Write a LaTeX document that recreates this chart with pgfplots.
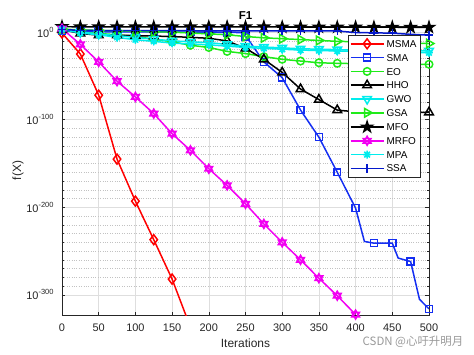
\documentclass[border=0pt]{standalone}
\usepackage{fontspec}
\setmainfont{Liberation Sans}
\newfontfamily\cjk{Noto Sans CJK SC}
\usepackage{pgfplots}
\usepackage{pgfplotstable}
\pgfplotsset{compat=1.18}

\definecolor{cMSMA}{rgb}{1,0,0}
\definecolor{cSMA}{rgb}{0.08,0.18,0.95}
\definecolor{cEO}{rgb}{0.12,0.92,0.1}
\definecolor{cGWO}{rgb}{0,0.93,0.93}
\definecolor{cMRFO}{rgb}{0.95,0,0.95}
\definecolor{cSSA}{rgb}{0.02,0.1,0.8}
\definecolor{axc}{rgb}{0.15,0.15,0.15}

\pgfdeclareplotmark{pentagram}{%
  \pgfpathmoveto{\pgfpointpolar{90}{\pgfplotmarksize}}%
  \pgfpathlineto{\pgfpointpolar{126}{0.382*\pgfplotmarksize}}%
  \pgfpathlineto{\pgfpointpolar{162}{\pgfplotmarksize}}%
  \pgfpathlineto{\pgfpointpolar{198}{0.382*\pgfplotmarksize}}%
  \pgfpathlineto{\pgfpointpolar{234}{\pgfplotmarksize}}%
  \pgfpathlineto{\pgfpointpolar{270}{0.382*\pgfplotmarksize}}%
  \pgfpathlineto{\pgfpointpolar{306}{\pgfplotmarksize}}%
  \pgfpathlineto{\pgfpointpolar{342}{0.382*\pgfplotmarksize}}%
  \pgfpathlineto{\pgfpointpolar{18}{\pgfplotmarksize}}%
  \pgfpathlineto{\pgfpointpolar{54}{0.382*\pgfplotmarksize}}%
  \pgfpathclose\pgfusepathqfillstroke}
\pgfdeclareplotmark{hexagram}{%
  \pgfpathmoveto{\pgfpointpolar{90}{\pgfplotmarksize}}%
  \pgfpathlineto{\pgfpointpolar{210}{\pgfplotmarksize}}%
  \pgfpathlineto{\pgfpointpolar{330}{\pgfplotmarksize}}%
  \pgfpathclose
  \pgfpathmoveto{\pgfpointpolar{270}{\pgfplotmarksize}}%
  \pgfpathlineto{\pgfpointpolar{30}{\pgfplotmarksize}}%
  \pgfpathlineto{\pgfpointpolar{150}{\pgfplotmarksize}}%
  \pgfpathclose\pgfusepathqstroke}
\pgfdeclareplotmark{mstar}{%
  \pgfpathmoveto{\pgfqpoint{-\pgfplotmarksize}{0pt}}\pgfpathlineto{\pgfqpoint{\pgfplotmarksize}{0pt}}%
  \pgfpathmoveto{\pgfqpoint{0pt}{-\pgfplotmarksize}}\pgfpathlineto{\pgfqpoint{0pt}{\pgfplotmarksize}}%
  \pgfpathmoveto{\pgfpointpolar{45}{\pgfplotmarksize}}\pgfpathlineto{\pgfpointpolar{225}{\pgfplotmarksize}}%
  \pgfpathmoveto{\pgfpointpolar{135}{\pgfplotmarksize}}\pgfpathlineto{\pgfpointpolar{315}{\pgfplotmarksize}}%
  \pgfusepathqstroke}

\newcommand\sexp[1]{10\raisebox{0.45em}{\fontsize{7.5}{8}\selectfont #1}}

% values are log10 f(X)
\pgfplotstableread[row sep=\\]{
x y\\ 0 -1\\ 25 -25\\ 50 -72\\ 75 -145\\ 100 -193\\ 125 -237\\ 150 -282\\ 170 -326\\
}\tMSMA
\pgfplotstableread[row sep=\\]{
x y\\ 0 1\\ 25 0.5\\ 50 0.5\\ 75 0.3\\ 100 0.3\\ 125 0.2\\ 150 0.2\\ 175 0\\ 200 0\\ 225 -0.3\\ 245 -0.5\\
250 -5\\ 256 -11\\ 275 -34\\ 300 -52\\ 325 -89\\ 350 -120\\ 375 -160\\ 400 -201\\ 412 -239\\
425 -241\\ 450 -241\\ 458 -258\\ 475 -262\\ 487 -305\\ 500 -316\\
}\tSMA
\pgfplotstableread[row sep=\\]{
x y\\ 0 3\\ 25 0\\ 50 -1.5\\ 75 -3\\ 100 -5\\ 125 -8\\ 150 -11\\ 175 -15\\ 200 -17.5\\ 225 -22\\
250 -24.5\\ 275 -28\\ 300 -31\\ 325 -33\\ 350 -35\\ 375 -35.6\\ 400 -36\\ 425 -36.3\\ 450 -36.5\\ 475 -36.7\\ 500 -36.7\\
}\tEO
\pgfplotstableread[row sep=\\]{
x y\\ 0 3\\ 25 -1.5\\ 50 -3.5\\ 75 -3.5\\ 100 -4\\ 125 -4.5\\ 150 -5\\ 175 -6\\ 200 -7\\ 225 -10\\
250 -18.5\\ 275 -31\\ 300 -46\\ 325 -65\\ 350 -77\\ 375 -89\\ 400 -91\\ 425 -91\\ 450 -91.5\\ 475 -91.5\\ 500 -91.5\\
}\tHHO
\pgfplotstableread[row sep=\\]{
x y\\ 0 4\\ 25 0\\ 50 -2\\ 75 -4\\ 100 -6\\ 125 -8\\ 150 -10\\ 175 -11\\ 200 -12\\ 225 -14\\
250 -16\\ 275 -17\\ 300 -18\\ 325 -19\\ 350 -19.5\\ 375 -20\\ 400 -20.5\\ 425 -21\\ 450 -21\\ 475 -21.5\\ 500 -21.5\\
}\tGWO
\pgfplotstableread[row sep=\\]{
x y\\ 0 3.5\\ 25 2.5\\ 50 2\\ 75 1.5\\ 100 1\\ 125 0.5\\ 150 0\\ 175 -1\\ 200 -2\\ 225 -3\\
250 -5\\ 275 -6.5\\ 300 -7.5\\ 325 -8.5\\ 350 -9.5\\ 375 -10.5\\ 400 -11\\ 425 -11.5\\ 450 -12\\ 475 -12.5\\ 500 -13\\
}\tGSA
\pgfplotstableread[row sep=\\]{
x y\\ 0 6.3\\ 25 6\\ 50 6\\ 75 6\\ 100 6\\ 125 6\\ 150 6\\ 175 6\\ 200 6\\ 225 6\\
250 6\\ 275 6\\ 300 5.8\\ 325 5.8\\ 350 5.8\\ 375 5.7\\ 400 5.7\\ 425 5.6\\ 450 5.6\\ 475 5.5\\ 500 5.5\\
}\tMFO
\pgfplotstableread[row sep=\\]{
x y\\ 0 4\\ 25 -14\\ 50 -34\\ 75 -56\\ 100 -74\\ 125 -93\\ 150 -116\\ 175 -135\\ 200 -156\\ 225 -175\\
250 -196\\ 275 -219\\ 300 -240\\ 325 -260\\ 350 -281\\ 375 -301\\ 400 -322.5\\
}\tMRFO
\pgfplotstableread[row sep=\\]{
x y\\ 0 3\\ 25 -1\\ 50 -3\\ 75 -6\\ 100 -8.7\\ 125 -10.5\\ 150 -12.5\\ 175 -13.5\\ 200 -14.5\\ 225 -16\\
250 -17.5\\ 275 -18.5\\ 300 -19.5\\ 325 -20.5\\ 350 -21\\ 375 -21.5\\ 400 -22\\ 425 -22.5\\ 450 -23\\ 475 -23\\ 500 -23.5\\
}\tMPA
\pgfplotstableread[row sep=\\]{
x y\\ 0 3\\ 25 2\\ 50 1.8\\ 75 1.8\\ 100 1.7\\ 125 1.7\\ 150 1.6\\ 175 1.6\\ 200 1.5\\ 225 1.5\\
250 1.5\\ 275 1.4\\ 300 1.4\\ 325 1.4\\ 350 1.3\\ 375 1.3\\ 400 -0.5\\ 425 -0.8\\ 450 -1.2\\ 475 -2.5\\ 500 -3.5\\
}\tSSA

\pgfplotsset{
  base/.style={line width=1.5pt, mark options={solid}},
  sMSMA/.style={base, color=cMSMA, mark=diamond, mark size=5pt},
  sSMA/.style={base, color=cSMA, mark=square, mark size=3.5pt},
  sEO/.style={base, color=cEO, mark=o, mark size=3.8pt},
  sHHO/.style={base, color=black, mark=triangle, mark size=5pt},
  sGWO/.style={base, color=cGWO, mark=triangle, mark size=5pt, mark options={solid, rotate=180}},
  sGSA/.style={base, color=cEO, mark=triangle, mark size=5pt, mark options={solid, rotate=-90}},
  sMFO/.style={base, color=black, mark=pentagram, mark size=5.5pt, mark options={solid, fill=black}},
  sMRFO/.style={base, color=cMRFO, mark=hexagram, mark size=4.5pt},
  sMPA/.style={base, color=cGWO, mark=mstar, mark size=4pt},
  sSSA/.style={base, color=cSSA, mark=+, mark size=4.5pt},
}

\begin{document}
\begin{tikzpicture}
\useasboundingbox (-62bp,-40bp) rectangle (412bp,315bp);
\begin{axis}[
  scale only axis, width=367bp, height=289bp,
  xmin=0, xmax=500, ymin=-323, ymax=7,
  xtick={0,50,...,500},
  ytick={0,-100,-200,-300},
  yticklabels={\sexp{0},\sexp{-100},\sexp{-200},\sexp{-300}},
  minor y tick num=9,
  grid=both,
  major grid style={solid, color=black!13, line width=0.5pt},
  minor grid style={dotted, color=black!24, line width=0.5pt},
  tick align=inside, major tick length=3.5bp, minor tick length=2bp,
  axis line style={color=axc, line width=0.5pt},
  every tick/.style={color=axc, line width=0.5pt},
  tick label style={color=axc, font=\fontsize{11}{13}\selectfont},
  /pgf/number format/assume math mode=true,
  xticklabel style={anchor=center, yshift=-12.5bp},
  yticklabel style={anchor=east, xshift=-5bp},
  title={F1},
  title style={font=\bfseries\fontsize{11.5}{13}\selectfont, color=black, at={(0.5,1)}, anchor=center, yshift=4bp},
  xlabel={Iterations},
  xlabel style={font=\fontsize{12}{14}\selectfont, color=axc, at={(0.5,0)}, anchor=center, yshift=-28bp},
  ylabel={f(X)},
  ylabel style={font=\fontsize{12}{14}\selectfont, color=axc, at={(0,0.5)}, anchor=center, yshift=44bp},
  legend image code/.code={\draw[mark repeat=2, mark phase=2, #1] plot coordinates {(0bp,0bp) (16.5bp,0bp) (33bp,0bp)};},
  legend style={at={(0.9755,0.969)}, anchor=north east, draw=axc, line width=0.5pt, fill=white,
    font=\fontsize{10}{12}\selectfont, inner xsep=1.8bp, inner ysep=3.5bp, row sep=3.6bp, column sep=0.7bp,
    nodes={inner sep=1.5bp, text height=7.2bp, text depth=0bp}},
  legend cell align=left,
]
\addplot[sMSMA, forget plot, mark indices={1,2,3,4,5,6,7}] table[x=x,y=y] {\tMSMA};
\addplot[sSMA, forget plot, mark indices={1,2,3,4,5,6,7,8,9,10,12,14,15,16,17,18,19,21,22,24,26}] table[x=x,y=y] {\tSMA};
\addplot[sEO, forget plot] table[x=x,y=y] {\tEO};
\addplot[sHHO, forget plot] table[x=x,y=y] {\tHHO};
\addplot[sGWO, forget plot] table[x=x,y=y] {\tGWO};
\addplot[sGSA, forget plot] table[x=x,y=y] {\tGSA};
\addplot[sMFO, forget plot] table[x=x,y=y] {\tMFO};
\addplot[sMRFO, forget plot] table[x=x,y=y] {\tMRFO};
\addplot[sMPA, forget plot] table[x=x,y=y] {\tMPA};
\addplot[sSSA, forget plot] table[x=x,y=y] {\tSSA};
\addlegendimage{sMSMA}\addlegendentry{MSMA}
\addlegendimage{sSMA}\addlegendentry{SMA}
\addlegendimage{sEO}\addlegendentry{EO}
\addlegendimage{sHHO}\addlegendentry{HHO}
\addlegendimage{sGWO}\addlegendentry{GWO}
\addlegendimage{sGSA}\addlegendentry{GSA}
\addlegendimage{sMFO}\addlegendentry{MFO}
\addlegendimage{sMRFO}\addlegendentry{MRFO}
\addlegendimage{sMPA}\addlegendentry{MPA}
\addlegendimage{sSSA}\addlegendentry{SSA}
\end{axis}
\node[text=black!40, font=\cjk\fontsize{11.5}{13}\selectfont, anchor=center] at (351bp,-26.3bp) {CSDN @心吁升明月};
\end{tikzpicture}
\end{document}
